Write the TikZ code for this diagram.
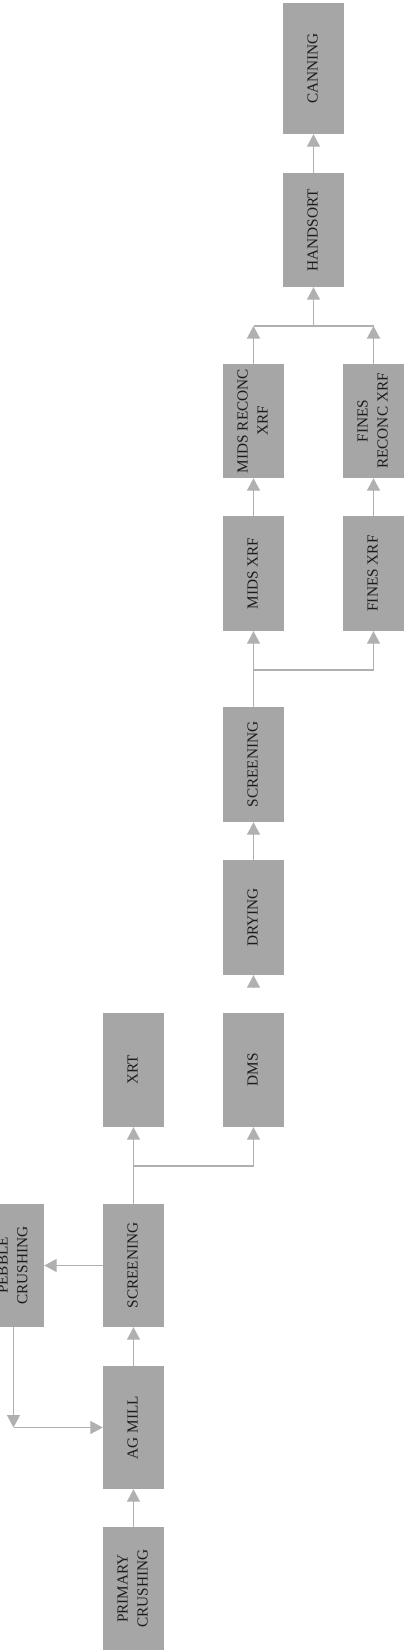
\documentclass[tikz,border=0pt]{standalone}
\usepackage{fontspec}
\setmainfont{Liberation Serif}
\usepackage{graphicx}
\usetikzlibrary{arrows.meta}
\definecolor{boxgray}{HTML}{A6A6A6}
\definecolor{linegray}{HTML}{B0B0B0}
\definecolor{txtc}{HTML}{1C1C1C}
\newcommand\vtxt[1]{\rotatebox{90}{\begin{tabular}{@{}c@{}}#1\end{tabular}}}
\tikzset{
  box/.style={draw=none, fill=boxgray, minimum width=61pt, inner sep=0pt,
    font=\fontsize{15.3}{20}\selectfont, text=txtc},
  arr/.style={draw=linegray, line width=1.3pt, -{Triangle[length=12.5pt,width=13pt]}},
  ln/.style={draw=linegray, line width=1.3pt},
}
\begin{document}
\begin{tikzpicture}[x=1pt,y=-1pt]
\useasboundingbox (0,0) rectangle (408,1650);
\clip (0,0) rectangle (408,1650);
% nodes
\node[box, minimum height=123pt] (prim) at (133.5,1588.5) {\vtxt{PRIMARY\\CRUSHING}};
\node[box, minimum height=123pt] (agmill) at (133.5,1427.5) {\vtxt{AG MILL}};
\node[box, minimum height=123pt] (scr1) at (133.5,1265.5) {\vtxt{SCREENING}};
\node[box, minimum height=123pt] (pebble) at (13.5,1265.5) {\vtxt{PEBBLE\\CRUSHING}};
\node[box, minimum height=114pt] (xrt) at (133.5,1070) {\vtxt{XRT}};
\node[box, minimum height=114pt] (dms) at (253.5,1070) {\vtxt{DMS}};
\node[box, minimum height=115pt] (drying) at (253.5,917.5) {\vtxt{DRYING}};
\node[box, minimum height=115pt] (scr2) at (253.5,764.5) {\vtxt{SCREENING}};
\node[box, minimum height=115pt] (midsxrf) at (253.5,573.5) {\vtxt{MIDS XRF}};
\node[box, minimum height=115pt] (finesxrf) at (373.5,573.5) {\vtxt{FINES XRF}};
\node[box, minimum height=114pt] (midsrec) at (253.5,421) {\vtxt{MIDS RECONC\\XRF}};
\node[box, minimum height=114pt] (finesrec) at (373.5,421) {\vtxt{FINES\\RECONC XRF}};
\node[box, minimum height=114pt] (handsort) at (313.5,230) {\vtxt{HANDSORT}};
\node[box, minimum height=131pt] (canning) at (313.5,68.5) {\vtxt{CANNING}};
% junction coordinates
\coordinate (pj) at (pebble.south |- agmill.west);
\coordinate (j1) at (133.5,1166);
\coordinate (j2) at (253.5,670);
\coordinate (j3a) at (253.5,326);
\coordinate (j3b) at (373.5,326);
\coordinate (j3) at (313.5,326);
% connectors
\draw[arr] (prim.north) -- (agmill.south);
\draw[arr] (agmill.north) -- (scr1.south);
\draw[arr] (scr1.west) -- (pebble.east);
\draw[arr] (pebble.south) -- (pj);
\draw[arr] (pj) -- (agmill.west);
\draw[arr] (scr1.north) -- (xrt.south);
\draw[arr] (j1) -| (dms.south);
\draw[arr, shorten <=25pt] (dms.north) -- (drying.south);
\draw[arr] (drying.north) -- (scr2.south);
\draw[arr] (scr2.north) -- (midsxrf.south);
\draw[arr] (j2) -| (finesxrf.south);
\draw[arr] (midsxrf.north) -- (midsrec.south);
\draw[arr] (finesxrf.north) -- (finesrec.south);
\draw[arr] (midsrec.north) -- (j3a);
\draw[arr] (finesrec.north) -- (j3b);
\draw[ln] (j3a) -- (j3b);
\draw[arr] (j3) -- (handsort.south);
\draw[arr] (handsort.north) -- (canning.south);
\end{tikzpicture}
\end{document}
